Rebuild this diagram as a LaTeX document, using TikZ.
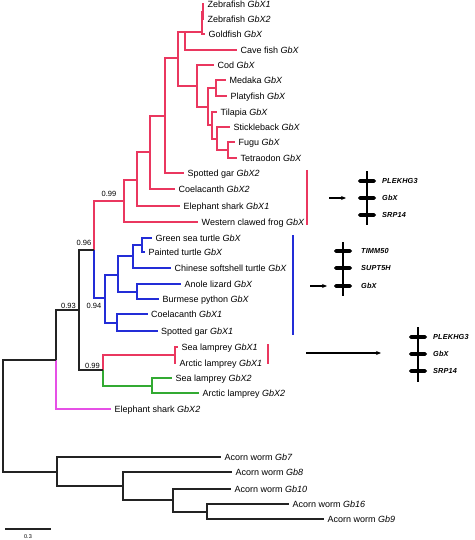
\documentclass[tikz,border=0pt]{standalone}
\usepackage{fontspec}
\setmainfont{Liberation Sans}
\newfontfamily\genefont[LetterSpace=2]{Liberation Sans}
\usetikzlibrary{arrows.meta}
\definecolor{tred}{RGB}{234,55,95}
\definecolor{tblue}{RGB}{35,45,215}
\definecolor{tgreen}{RGB}{50,170,50}
\definecolor{tmag}{RGB}{230,80,230}
\definecolor{tblk}{RGB}{35,35,35}
\begin{document}
\begin{tikzpicture}[x=1pt,y=-1pt,
  br/.style={line width=1.05pt},
  leaf/.style={anchor=west, inner xsep=3.5pt, inner ysep=0pt, text height=6.4pt, text depth=0pt, font=\fontsize{9}{10}\selectfont},
  boot/.style={inner sep=0pt, font=\fontsize{7.5}{8}\selectfont},
  genebar/.style={fill=black, draw=none, rectangle, rounded corners=1.8pt, minimum width=18pt, minimum height=3.8pt, inner sep=0pt},
  genelab/.style={anchor=west, inner xsep=0pt, inner ysep=0pt, text height=5.5pt, text depth=0pt, font=\fontsize{7.3}{8}\genefont\bfseries\itshape},
  geneaxis/.style={line width=1.4pt},
  groupbar/.style={line width=1.2pt},
  arr/.style={line width=1.1pt, -{Stealth[length=5pt,width=4pt]}}
]
\useasboundingbox (0,0) rectangle (474,540);

% ---------- internal nodes ----------
\coordinate (root) at (3,416);
\coordinate (n56) at (56,360);
\coordinate (n93) at (79,310);
\coordinate (n96) at (94,250);
\coordinate (n124) at (124,201);
\coordinate (n137) at (137,180);
\coordinate (n150) at (150,152);
\coordinate (n165) at (165,116);
\coordinate (nTel) at (178,58);
\coordinate (nZC) at (185,32);
\coordinate (nZG) at (202,32);
\coordinate (nZZ) at (203,12);
\coordinate (nPerc) at (197,86);
\coordinate (nP2) at (208,107);
\coordinate (nMP) at (216,88);
\coordinate (nP3) at (212,125);
\coordinate (nP4) at (217,139);
\coordinate (nFT) at (228,150);
\coordinate (nB) at (105,298);
\coordinate (nB2) at (118,275);
\coordinate (nTur) at (133,256);
\coordinate (nTT) at (142,245);
\coordinate (nSq) at (137,292);
\coordinate (nB3) at (117,323);
\coordinate (n99) at (103,370);
\coordinate (nL1) at (175,355);
\coordinate (nL2) at (152,386);
\coordinate (nAc) at (57,472);
\coordinate (nA2) at (123,486);
\coordinate (nA3) at (173,500);
\coordinate (nA4) at (207,512);

% ---------- leaves ----------
\node[leaf] (zf1) at (204,4) {Zebrafish \textit{GbX1}};
\node[leaf] (zf2) at (204,19) {Zebrafish \textit{GbX2}};
\node[leaf] (gold) at (205,34) {Goldfish \textit{GbX}};
\node[leaf] (cave) at (237,50) {Cave fish \textit{GbX}};
\node[leaf] (cod) at (214,65) {Cod \textit{GbX}};
\node[leaf] (med) at (226,80) {Medaka \textit{GbX}};
\node[leaf] (platy) at (227,96) {Platyfish \textit{GbX}};
\node[leaf] (tilap) at (217,112) {Tilapia \textit{GbX}};
\node[leaf] (stick) at (230,127) {Stickleback \textit{GbX}};
\node[leaf] (fugu) at (235,142) {Fugu \textit{GbX}};
\node[leaf] (tetra) at (237,158) {Tetraodon \textit{GbX}};
\node[leaf] (sg2) at (184,173) {Spotted gar \textit{GbX2}};
\node[leaf] (coel2) at (175,189) {Coelacanth \textit{GbX2}};
\node[leaf] (es1) at (180,206) {Elephant shark \textit{GbX1}};
\node[leaf] (frog) at (198,222) {Western clawed frog \textit{GbX}};
\node[leaf] (green) at (152,238) {Green sea turtle \textit{GbX}};
\node[leaf] (painted) at (145,252) {Painted turtle \textit{GbX}};
\node[leaf] (chinese) at (171,268) {Chinese softshell turtle \textit{GbX}};
\node[leaf] (anole) at (181,284) {Anole lizard \textit{GbX}};
\node[leaf] (python) at (159,299) {Burmese python \textit{GbX}};
\node[leaf] (coel1) at (147.5,314) {Coelacanth \textit{GbX1}};
\node[leaf] (sg1) at (157.5,331) {Spotted gar \textit{GbX1}};
\node[leaf] (sl1) at (178,347) {Sea lamprey \textit{GbX1}};
\node[leaf] (al1) at (176,363) {Arctic lamprey \textit{GbX1}};
\node[leaf] (sl2) at (172,378) {Sea lamprey \textit{GbX2}};
\node[leaf] (al2) at (199,393) {Arctic lamprey \textit{GbX2}};
\node[leaf] (es2) at (111,409) {Elephant shark \textit{GbX2}};
\node[leaf] (gb7) at (221,457) {Acorn worm \textit{Gb7}};
\node[leaf] (gb8) at (232,472) {Acorn worm \textit{Gb8}};
\node[leaf] (gb10) at (231,489) {Acorn worm \textit{Gb10}};
\node[leaf] (gb16) at (289,504) {Acorn worm \textit{Gb16}};
\node[leaf] (gb9) at (324,519) {Acorn worm \textit{Gb9}};

% ---------- red clade ----------
\begin{scope}[br, draw=tred]
\draw (n96) |- (n124);
\draw (n124) |- (n137);
\draw (n124) |- (frog.west);
\draw (n137) |- (n150);
\draw (n137) |- (es1.west);
\draw (n150) |- (n165);
\draw (n150) |- (coel2.west);
\draw (n165) |- (nTel);
\draw (n165) |- (sg2.west);
\draw (nTel) |- (nZC);
\draw (nTel) |- (nPerc);
\draw (nZC) |- (nZG);
\draw (nZC) |- (cave.west);
\draw (nZG) |- (nZZ);
\draw (nZG) |- (gold.west);
\draw (nZZ) |- (zf1.west);
\draw (nZZ) |- (zf2.west);
\draw (nPerc) |- (cod.west);
\draw (nPerc) |- (nP2);
\draw (nP2) |- (nMP);
\draw (nP2) |- (nP3);
\draw (nMP) |- (med.west);
\draw (nMP) |- (platy.west);
\draw (nP3) |- (tilap.west);
\draw (nP3) |- (nP4);
\draw (nP4) |- (stick.west);
\draw (nP4) |- (nFT);
\draw (nFT) |- (fugu.west);
\draw (nFT) |- (tetra.west);
\draw (n99) |- (nL1);
\draw (nL1) |- (sl1.west);
\draw (nL1) |- (al1.west);
\end{scope}

% ---------- blue clade ----------
\begin{scope}[br, draw=tblue]
\draw (n96) |- (nB);
\draw (nB) |- (nB2);
\draw (nB) |- (nB3);
\draw (nB2) |- (nTur);
\draw (nB2) |- (nSq);
\draw (nTur) |- (nTT);
\draw (nTur) |- (chinese.west);
\draw (nTT) |- (green.west);
\draw (nTT) |- (painted.west);
\draw (nSq) |- (anole.west);
\draw (nSq) |- (python.west);
\draw (nB3) |- (coel1.west);
\draw (nB3) |- (sg1.west);
\end{scope}

% ---------- green clade ----------
\begin{scope}[br, draw=tgreen]
\draw (n99) |- (nL2);
\draw (nL2) |- (sl2.west);
\draw (nL2) |- (al2.west);
\end{scope}

% ---------- magenta ----------
\draw[br, draw=tmag] (n56) |- (es2.west);

% ---------- black backbone ----------
\begin{scope}[br, draw=tblk]
\draw (n93) |- (n96);
\draw (n93) |- (n99);
\draw (n56) |- (n93);
\draw (root) |- (n56);
\draw (root) |- (nAc);
\draw (nAc) |- (gb7.west);
\draw (nAc) |- (nA2);
\draw (nA2) |- (gb8.west);
\draw (nA2) |- (nA3);
\draw (nA3) |- (gb10.west);
\draw (nA3) |- (nA4);
\draw (nA4) |- (gb16.west);
\draw (nA4) |- (gb9.west);
\end{scope}

% ---------- support values ----------
\node[boot] (b1) at (109,194) {0.99};
\node[boot] (b2) at (84,243) {0.96};
\node[boot] (b3) at (68.5,305.5) {0.93};
\node[boot] (b4) at (94,306) {0.94};
\node[boot] (b5) at (92.5,365.5) {0.99};

% ---------- group bars ----------
\coordinate (rb1t) at (307,170);
\coordinate (rb1b) at (307,225);
\coordinate (bb1t) at (293,235);
\coordinate (bb1b) at (293,335);
\coordinate (rb2t) at (268,344);
\coordinate (rb2b) at (268,364);
\draw[groupbar, draw=tred] (rb1t) -- (rb1b);
\draw[groupbar, draw=tblue] (bb1t) -- (bb1b);
\draw[groupbar, draw=tred] (rb2t) -- (rb2b);

% ---------- arrows ----------
\coordinate (a1s) at (329,198);
\coordinate (a1e) at (346,198);
\coordinate (a2s) at (310,286);
\coordinate (a2e) at (327,286);
\coordinate (a3s) at (306,353);
\coordinate (a3e) at (381,353);
\draw[arr] (a1s) -- (a1e);
\draw[arr] (a2s) -- (a2e);
\draw[arr] (a3s) -- (a3e);

% ---------- gene diagram 1 ----------
\coordinate (g1t) at (367,171);
\coordinate (g1b) at (367,225);
\draw[geneaxis] (g1t) -- (g1b);
\node[genebar] (g1a) at (367,181) {};
\node[genebar] (g1b2) at (367,198) {};
\node[genebar] (g1c) at (367,215) {};
\node[genelab] (g1al) at (382,181) {PLEKHG3};
\node[genelab] (g1bl) at (382,198) {GbX};
\node[genelab] (g1cl) at (382,215) {SRP14};

% ---------- gene diagram 2 ----------
\coordinate (g2t) at (343,242);
\coordinate (g2b) at (343,296);
\draw[geneaxis] (g2t) -- (g2b);
\node[genebar] (g2a) at (343,251) {};
\node[genebar] (g2b2) at (343,268) {};
\node[genebar] (g2c) at (343,286) {};
\node[genelab] (g2al) at (361,251) {TIMM50};
\node[genelab] (g2bl) at (361,268) {SUPT5H};
\node[genelab] (g2cl) at (361,286) {GbX};

% ---------- gene diagram 3 ----------
\coordinate (g3t) at (418,327);
\coordinate (g3b) at (418,382);
\draw[geneaxis] (g3t) -- (g3b);
\node[genebar] (g3a) at (418,337) {};
\node[genebar] (g3b2) at (418,354) {};
\node[genebar] (g3c) at (418,371) {};
\node[genelab] (g3al) at (433,337) {PLEKHG3};
\node[genelab] (g3bl) at (433,354) {GbX};
\node[genelab] (g3cl) at (433,371) {SRP14};

% ---------- scale bar ----------
\coordinate (sb1) at (5,529);
\coordinate (sb2) at (51,529);
\draw[br, draw=tblk] (sb1) -- (sb2);
\node[inner sep=0pt, font=\fontsize{5.5}{6}\selectfont] (sbl) at (28,536.5) {0.3};
\end{tikzpicture}
\end{document}
